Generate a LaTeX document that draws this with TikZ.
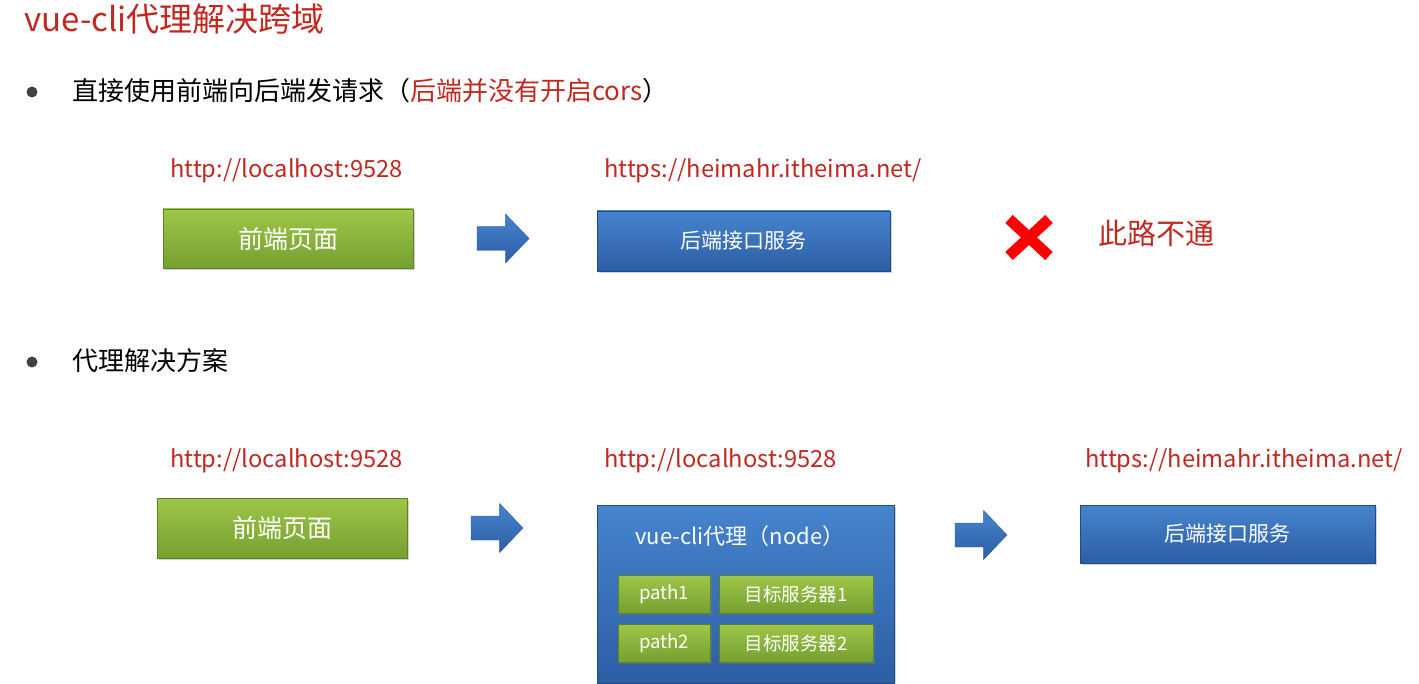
\documentclass[tikz,border=0pt]{standalone}
\usepackage{fontspec}
\setmainfont{Noto Sans CJK SC}
\usetikzlibrary{shadows}
\definecolor{rd}{RGB}{192,40,32}
\definecolor{gT}{RGB}{158,198,72}
\definecolor{gB}{RGB}{118,160,48}
\definecolor{bT}{RGB}{70,132,206}
\definecolor{bB}{RGB}{44,94,164}
\tikzset{x=1pt,y=-1pt,
 lbl/.style={anchor=west,text=rd,font=\fontsize{23.7}{26}\selectfont,inner sep=0},
 gbox/.style={top color=gT,bottom color=gB,draw=gB!80!black,line width=0.4pt,text=white,drop shadow={opacity=0.35,shadow xshift=2pt,shadow yshift=-2pt},inner sep=0},
 bbox/.style={top color=bT,bottom color=bB,draw=bB!80!black,line width=0.4pt,text=white,drop shadow={opacity=0.35,shadow xshift=2pt,shadow yshift=-2pt},inner sep=0},
 arr/.style={top color=bT,bottom color=bB,draw=bB,line width=0.4pt},
 bul/.style={fill=black!75,circle,inner sep=0,minimum size=11pt},
 txt/.style={anchor=west,font=\fontsize{26}{28}\selectfont,inner sep=0}}
\newcommand\blockarrow[3]{% x0, ymid, length
 \path[arr] (#1,#2-12) -- ++(0.55*#3,0) -- ++(0,-12.5) -- (#1+#3,#2) -- (#1+0.55*#3,#2+24.5) -- ++(0,-12.5) -- (#1,#2+12) -- cycle;}
\begin{document}
\begin{tikzpicture}
\useasboundingbox (0,0) rectangle (1419,684);
\node[anchor=west,text=rd,font=\fontsize{33}{36}\selectfont,inner sep=0] (title) at (24,19) {vue-cli代理解决跨域};
\node[bul] (b1) at (32,92) {};
\node[txt] (t1) at (72,91) {直接使用前端向后端发请求（\textcolor{rd}{后端并没有开启cors}）};
\node[lbl] (l1) at (170,171) {http://localhost:9528};
\node[gbox,minimum width=250pt,minimum height=59pt,font=\fontsize{25}{28}\selectfont] (fe1) at (288,238.5) {前端页面};
\blockarrow{477}{238.5}{52}
\node[lbl] (l2) at (604,171) {https://heimahr.itheima.net/};
\node[bbox,minimum width=293pt,minimum height=60pt,font=\fontsize{21}{24}\selectfont] (be1) at (743.5,241) {后端接口服务};
\node[inner sep=0] (x) at (1029,237.5) {};
\draw[red,line width=11pt] (1009,219) -- (1049,256) (1049,219) -- (1009,256);
\node[anchor=west,text=rd,font=\fontsize{29}{30}\selectfont,inner sep=0] (no) at (1098,233) {此路不通};
\node[bul] (b2) at (32,362) {};
\node[txt] (t2) at (72,361) {代理解决方案};
\node[lbl] (l3) at (170,461) {http://localhost:9528};
\node[gbox,minimum width=250pt,minimum height=60pt,font=\fontsize{25}{28}\selectfont] (fe2) at (282,528) {前端页面};
\blockarrow{471}{528}{52}
\node[lbl] (l4) at (604,461) {http://localhost:9528};
\node[bbox,minimum width=297pt,minimum height=178pt] (px) at (745.5,594) {};
\node[text=white,font=\fontsize{22}{24}\selectfont,inner sep=0] (pxt) at (740,536) {vue-cli代理（node）};
\node[gbox,minimum width=92pt,minimum height=38pt,font=\fontsize{18.5}{20}\selectfont] (p1) at (664,594) {path1};
\node[gbox,minimum width=154pt,minimum height=38pt,font=\fontsize{18.5}{20}\selectfont] (s1) at (796,594) {目标服务器1};
\node[gbox,minimum width=92pt,minimum height=38pt,font=\fontsize{18.5}{20}\selectfont] (p2) at (664,643) {path2};
\node[gbox,minimum width=154pt,minimum height=38pt,font=\fontsize{18.5}{20}\selectfont] (s2) at (796,643) {目标服务器2};
\blockarrow{955}{535}{52}
\node[lbl] (l5) at (1085,461) {https://heimahr.itheima.net/};
\node[bbox,minimum width=295pt,minimum height=58pt,font=\fontsize{21}{24}\selectfont] (be2) at (1227.5,534) {后端接口服务};
\end{tikzpicture}
\end{document}
